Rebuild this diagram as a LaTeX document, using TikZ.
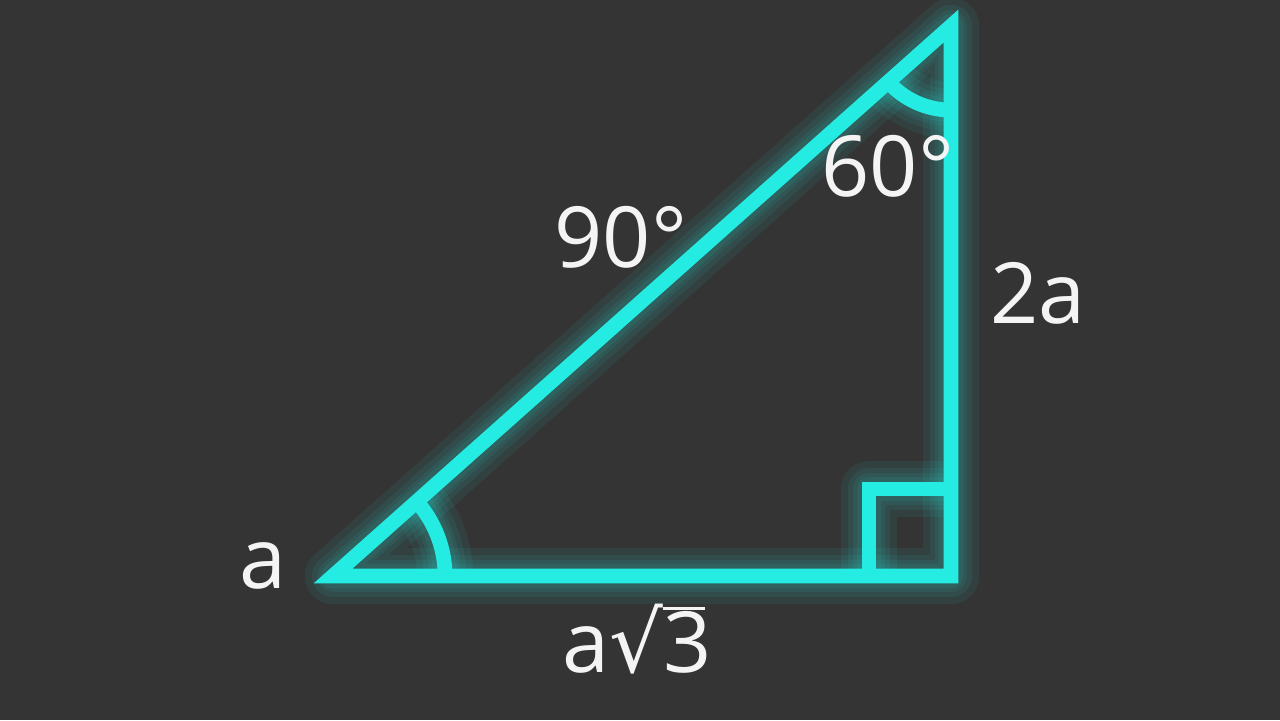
\documentclass[tikz,border=0pt]{standalone}
\usepackage{fontspec}
\setmainfont{Open Sans}
\newfontfamily\symfont{DejaVu Sans}
\definecolor{bgray}{RGB}{52,52,52}
\definecolor{neon}{RGB}{36,236,226}
\definecolor{chalk}{RGB}{244,244,244}

\begin{document}
\begin{tikzpicture}[x=0.01cm, y=-0.01cm, line join=miter,
    side/.style={draw=neon, line width=4.2pt},
    halo/.style={draw=neon, line width=#1, opacity=0.07, line join=round},
    lbl/.style={text=chalk, font=\fontsize{24}{28}\selectfont, inner sep=0pt, anchor=base}]
  \useasboundingbox (0,0) rectangle (1280,720);
  \clip (0,0) rectangle (1280,720);
  \fill[bgray] (0,0) rectangle (1280,720);

  % corners of the triangle
  \coordinate (A) at (333,576);
  \coordinate (B) at (951,576);
  \coordinate (C) at (951,26);
  \coordinate (Sq) at (869,489);

  \foreach \w in {16pt,12pt,9pt,7pt} {
    \draw[halo=\w] (A) -- (B) -- (C) -- cycle;
    \draw[halo=\w] (B -| Sq) |- (Sq) -| (B |- Sq);
    \draw[halo=\w] ([xshift=1.12cm]A) arc[start angle=0, end angle=-41.6, radius=112];
    \draw[halo=\w] ([yshift=-0.84cm]C) arc[start angle=90, end angle=138.4, radius=84];
  }

  \draw[side] (A) -- (B) -- (C) -- cycle;
  \draw[side] (B -| Sq) |- (Sq) -| (B |- Sq);
  \draw[side] ([xshift=1.12cm]A) arc[start angle=0, end angle=-41.6, radius=112];
  \draw[side] ([yshift=-0.84cm]C) arc[start angle=90, end angle=138.4, radius=84];

  \node[lbl] (ta) at (263,588) {a};
  \node[lbl] (tb) at (637,672) {a{\symfont √}\rlap{\rule[17.6pt]{0.5em}{0.9pt}}3};
  \node[lbl] (tc) at (1038,323) {2a};
  \node[lbl] (tC) at (888,196) {60°};
  \node[lbl] (tx) at (621,267) {90°};
\end{tikzpicture}
\end{document}
